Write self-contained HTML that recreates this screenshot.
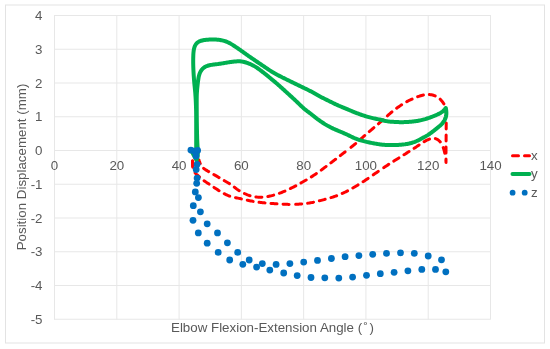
<!DOCTYPE html>
<html><head><meta charset="utf-8"><style>
html,body{margin:0;padding:0;background:#fff;}
svg{display:block;}
text{font-family:"Liberation Sans",Arial,sans-serif;font-size:13.33px;fill:#595959;}
</style></head><body>
<svg width="550" height="349" viewBox="0 0 550 349">
<rect x="0" y="0" width="550" height="349" fill="#fff"/>
<rect x="5.5" y="5" width="539" height="338" fill="none" stroke="#e3e3e3" stroke-width="1"/>
<line x1="54" x2="490.5" y1="15.50" y2="15.50" stroke="#e7e7e7" stroke-width="1"/><line x1="54" x2="490.5" y1="49.25" y2="49.25" stroke="#e7e7e7" stroke-width="1"/><line x1="54" x2="490.5" y1="83.00" y2="83.00" stroke="#e7e7e7" stroke-width="1"/><line x1="54" x2="490.5" y1="116.75" y2="116.75" stroke="#e7e7e7" stroke-width="1"/><line x1="54" x2="490.5" y1="150.50" y2="150.50" stroke="#e7e7e7" stroke-width="1"/><line x1="54" x2="490.5" y1="184.25" y2="184.25" stroke="#e7e7e7" stroke-width="1"/><line x1="54" x2="490.5" y1="218.00" y2="218.00" stroke="#e7e7e7" stroke-width="1"/><line x1="54" x2="490.5" y1="251.75" y2="251.75" stroke="#e7e7e7" stroke-width="1"/><line x1="54" x2="490.5" y1="285.50" y2="285.50" stroke="#e7e7e7" stroke-width="1"/><line x1="54" x2="490.5" y1="319.25" y2="319.25" stroke="#e7e7e7" stroke-width="1"/><line x1="54.50" x2="54.50" y1="15" y2="319.5" stroke="#e7e7e7" stroke-width="1"/><line x1="116.79" x2="116.79" y1="15" y2="319.5" stroke="#e7e7e7" stroke-width="1"/><line x1="179.07" x2="179.07" y1="15" y2="319.5" stroke="#e7e7e7" stroke-width="1"/><line x1="241.36" x2="241.36" y1="15" y2="319.5" stroke="#e7e7e7" stroke-width="1"/><line x1="303.64" x2="303.64" y1="15" y2="319.5" stroke="#e7e7e7" stroke-width="1"/><line x1="365.93" x2="365.93" y1="15" y2="319.5" stroke="#e7e7e7" stroke-width="1"/><line x1="428.21" x2="428.21" y1="15" y2="319.5" stroke="#e7e7e7" stroke-width="1"/><line x1="490.50" x2="490.50" y1="15" y2="319.5" stroke="#e7e7e7" stroke-width="1"/><text x="42.5" y="20.10" text-anchor="end">4</text><text x="42.5" y="53.85" text-anchor="end">3</text><text x="42.5" y="87.60" text-anchor="end">2</text><text x="42.5" y="121.35" text-anchor="end">1</text><text x="42.5" y="155.10" text-anchor="end">0</text><text x="42.5" y="188.85" text-anchor="end">-1</text><text x="42.5" y="222.60" text-anchor="end">-2</text><text x="42.5" y="256.35" text-anchor="end">-3</text><text x="42.5" y="290.10" text-anchor="end">-4</text><text x="42.5" y="323.85" text-anchor="end">-5</text><text x="54.50" y="170.1" text-anchor="middle">0</text><text x="116.79" y="170.1" text-anchor="middle">20</text><text x="179.07" y="170.1" text-anchor="middle">40</text><text x="241.36" y="170.1" text-anchor="middle">60</text><text x="303.64" y="170.1" text-anchor="middle">80</text><text x="365.93" y="170.1" text-anchor="middle">100</text><text x="428.21" y="170.1" text-anchor="middle">120</text><text x="490.50" y="170.1" text-anchor="middle">140</text><text x="171" y="332.4">Elbow Flexion-Extension Angle (<tspan x="363.6">˚</tspan><tspan x="369.6">)</tspan></text><text transform="translate(25.6 167) rotate(-90)" text-anchor="middle">Position Displacement (mm)</text>
<path d="M199.00,160.00 L199.32,160.95 L199.66,161.89 L200.00,162.83 L200.26,163.48 M203.65,168.35 L203.78,168.47 L204.56,169.06 L205.39,169.62 L206.23,170.15 L207.09,170.66 L207.95,171.17 L208.69,171.59 M213.89,174.58 L214.04,174.67 L214.91,175.17 L215.78,175.67 L216.64,176.17 L217.51,176.67 L218.38,177.18 L219.08,177.59 M224.27,180.60 L224.45,180.70 L225.32,181.20 L226.19,181.70 L227.06,182.20 L227.92,182.71 L228.78,183.23 L229.44,183.64 M234.30,187.16 L234.48,187.30 L235.27,187.92 L236.07,188.52 L236.87,189.11 L237.69,189.68 L238.53,190.24 L239.18,190.64 M244.46,193.48 L244.68,193.59 L245.59,194.01 L246.51,194.42 L247.43,194.80 L248.37,195.15 L249.31,195.48 L250.03,195.71 M255.89,196.96 L256.13,196.99 L257.13,197.08 L258.13,197.14 L259.13,197.18 L260.13,197.19 L261.13,197.18 L261.88,197.15 M267.84,196.52 L268.10,196.48 L269.08,196.29 L270.06,196.08 L271.04,195.85 L272.01,195.61 L272.98,195.35 L273.68,195.15 M279.39,193.30 L279.65,193.20 L280.59,192.85 L281.53,192.49 L282.46,192.11 L283.38,191.72 L284.30,191.33 L284.95,191.05 M290.39,188.53 L290.68,188.39 L291.58,187.95 L292.48,187.51 L293.38,187.06 L294.27,186.61 L295.16,186.15 L295.75,185.83 M301.00,182.93 L301.31,182.76 L302.18,182.26 L303.05,181.77 L303.92,181.27 L304.79,180.77 L305.66,180.27 L306.21,179.95 M311.35,176.86 L311.68,176.66 L312.52,176.12 L313.37,175.58 L314.21,175.03 L315.04,174.47 L315.87,173.91 L316.37,173.57 M321.25,170.08 L321.58,169.83 L322.39,169.24 L323.19,168.64 L324.00,168.04 L324.80,167.43 L325.60,166.83 L326.06,166.49 M330.85,162.87 L331.20,162.60 L332.00,162.00 L332.80,161.39 L333.59,160.78 L334.39,160.17 L335.18,159.56 L335.61,159.23 M340.35,155.55 L340.74,155.26 L341.53,154.64 L342.32,154.03 L343.11,153.42 L343.91,152.80 L344.70,152.19 L345.10,151.89 M350.98,147.35 L351.05,147.29 L351.84,146.67 L352.62,146.04 L353.40,145.41 L354.18,144.77 L354.95,144.13 L355.63,143.56 M360.28,139.50 L360.99,138.86 L361.74,138.19 L362.49,137.52 L363.23,136.85 L363.98,136.18 L364.73,135.52 L364.76,135.50 M369.29,131.57 L370.04,130.93 L370.81,130.28 L371.58,129.63 L372.34,128.99 L373.11,128.34 L373.88,127.70 M378.45,123.81 L378.46,123.80 L379.22,123.14 L379.97,122.48 L380.72,121.81 L381.47,121.15 L382.21,120.47 L382.93,119.83 M387.41,115.83 L387.44,115.79 L388.20,115.13 L388.95,114.47 L389.71,113.82 L390.47,113.16 L391.23,112.51 L391.95,111.91 M396.67,108.21 L396.74,108.16 L397.55,107.58 L398.37,107.00 L399.20,106.43 L400.03,105.87 L400.87,105.32 L401.62,104.82 M406.75,101.71 L406.85,101.65 L407.73,101.17 L408.61,100.70 L409.51,100.25 L410.41,99.81 L411.31,99.39 L412.11,99.02 M417.66,96.75 L417.79,96.70 L418.74,96.37 L419.69,96.06 L420.65,95.78 L421.62,95.51 L422.59,95.27 L423.42,95.09 M429.38,94.55 L429.51,94.56 L430.50,94.64 L431.48,94.78 L432.45,94.98 L433.41,95.23 L434.35,95.55 L435.19,95.90 M440.18,99.19 L440.19,99.20 L440.89,99.91 L441.54,100.66 L442.17,101.43 L442.77,102.23 L443.34,103.05 L443.88,103.89 L443.88,103.89 M446.06,109.97 L446.11,110.37 L446.20,111.37 L446.26,112.36 L446.29,113.36 L446.30,114.37 L446.31,115.37 L446.31,115.96 M446.23,123.05 L446.22,123.39 L446.21,124.39 L446.20,125.40 L446.19,126.40 L446.18,127.40 L446.18,128.40 L446.17,129.05 M446.13,135.05 L446.13,135.42 L446.12,136.43 L446.12,137.43 L446.11,138.43 L446.10,139.44 L446.10,140.44 L446.09,141.05 M446.04,147.05 L446.03,147.46 L446.03,148.46 L446.02,149.46 L446.01,150.47 L446.01,151.47 L446.00,152.47 L446.00,153.05 M446.00,159.05 L446.00,159.49 L446.00,160.49 L446.00,161.50 L446.00,162.50 L445.95,161.50 L445.90,160.50 L445.87,159.96 M444.85,153.32 L444.67,152.63 L444.42,151.66 L444.16,150.69 L443.90,149.73 L443.63,148.77 L443.33,147.82 L443.23,147.54 M440.28,141.94 L440.11,141.73 L439.44,141.02 L438.71,140.38 L437.92,139.81 L437.08,139.32 L436.20,138.92 L435.37,138.65 M429.49,139.05 L428.65,139.37 L427.74,139.77 L426.84,140.20 L425.95,140.66 L425.07,141.14 L424.20,141.64 L424.11,141.70 M419.08,144.97 L418.35,145.48 L417.52,146.06 L416.70,146.62 L415.87,147.18 L415.04,147.74 L414.20,148.29 L414.12,148.34 M409.06,151.56 L408.28,152.05 L407.43,152.58 L406.58,153.12 L405.74,153.65 L404.89,154.18 L404.04,154.71 L403.97,154.75 M398.87,157.91 L398.08,158.40 L397.23,158.94 L396.38,159.47 L395.53,160.00 L394.69,160.54 L393.84,161.08 L393.80,161.10 M388.75,164.36 L387.95,164.88 L387.11,165.43 L386.28,165.99 L385.44,166.54 L384.61,167.10 L383.78,167.66 L383.75,167.67 M378.24,171.41 L377.97,171.59 L377.15,172.16 L376.32,172.72 L375.50,173.29 L374.67,173.86 L373.85,174.43 L373.29,174.82 M368.08,178.42 L368.08,178.42 L367.25,178.98 L366.42,179.54 L365.59,180.09 L364.75,180.65 L363.91,181.19 L363.08,181.73 M358.01,184.93 L357.99,184.95 L357.13,185.47 L356.27,185.98 L355.41,186.50 L354.55,187.01 L353.69,187.51 L352.85,188.00 M347.60,190.91 L347.56,190.93 L346.67,191.39 L345.78,191.83 L344.88,192.27 L343.97,192.70 L343.06,193.11 L342.19,193.49 M336.62,195.71 L336.56,195.73 L335.62,196.07 L334.67,196.41 L333.73,196.73 L332.78,197.05 L331.82,197.36 L330.94,197.64 M325.17,199.30 L325.09,199.32 L324.13,199.58 L323.16,199.84 L322.19,200.09 L321.22,200.34 L320.25,200.59 L319.37,200.81 M313.52,202.18 L313.42,202.21 L312.44,202.41 L311.46,202.60 L310.48,202.78 L309.49,202.95 L308.50,203.11 L307.62,203.24 M301.66,203.93 L301.54,203.94 L300.54,204.03 L299.54,204.10 L298.55,204.17 L297.55,204.24 L296.55,204.29 L295.67,204.33 M289.07,204.40 L288.54,204.39 L287.53,204.36 L286.53,204.33 L285.53,204.30 L284.53,204.25 L283.53,204.21 L283.08,204.19 M276.99,203.83 L276.53,203.80 L275.53,203.73 L274.53,203.66 L273.53,203.59 L272.53,203.52 L271.53,203.44 L271.00,203.40 M265.03,202.90 L264.55,202.85 L263.55,202.76 L262.55,202.66 L261.56,202.56 L260.56,202.45 L259.57,202.33 L259.06,202.27 M253.13,201.37 L252.63,201.28 L251.65,201.10 L250.67,200.91 L249.68,200.71 L248.70,200.51 L247.72,200.30 L247.24,200.19 M241.39,198.87 L240.88,198.76 L239.90,198.55 L238.92,198.35 L237.94,198.15 L236.96,197.96 L235.98,197.77 L235.51,197.68 M229.71,196.16 L229.23,195.98 L228.30,195.61 L227.38,195.22 L226.47,194.80 L225.57,194.37 L224.67,193.92 L224.25,193.70 M219.06,190.69 L218.61,190.41 L217.77,189.87 L216.93,189.32 L216.09,188.78 L215.25,188.23 L214.41,187.68 L214.02,187.43 M209.03,184.10 L208.57,183.80 L207.74,183.24 L206.90,182.69 L206.07,182.13 L205.24,181.58 L204.41,181.01 L204.05,180.76 M199.42,176.95 L199.02,176.58 L198.28,175.90 L197.54,175.23 L196.80,174.57 L196.09,173.88 L195.42,173.18 L195.10,172.79 M192.88,167.30 L192.83,166.98 L192.72,165.99 L192.64,165.00 L192.60,164.00 L192.58,163.00 L192.59,162.00 L192.60,161.31" fill="none" stroke="#ff0000" stroke-width="3" stroke-linejoin="round" stroke-linecap="round"/>
<path d="M192.5,160.8 L192.7,166.5" stroke="#ff0000" stroke-width="3" stroke-linecap="round"/>
<path d="M191.50,151.00 L192.00,151.93 L192.50,152.86 L193.00,153.79 L193.50,154.72 L194.00,155.65 L194.50,156.58 L195.00,157.51 L195.50,158.44 L196.00,159.37 L196.50,160.30 L196.81,159.36 L197.10,158.41 L197.35,157.45 L197.55,156.49 L197.69,155.51 L197.77,154.52 L197.81,153.53 L197.82,152.53 L197.80,151.53 L197.76,150.53 L197.72,149.54 L197.66,148.54 L197.60,147.54 L197.54,146.54 L197.48,145.54 L197.43,144.54 L197.37,143.55 L197.32,142.55 L197.28,141.55 L197.23,140.55 L197.20,139.55 L197.16,138.55 L197.13,137.55 L197.11,136.55 L197.08,135.55 L197.06,134.55 L197.03,133.55 L197.01,132.55 L196.99,131.55 L196.97,130.55 L196.95,129.55 L196.93,128.55 L196.91,127.55 L196.90,126.55 L196.88,125.55 L196.87,124.55 L196.85,123.55 L196.84,122.55 L196.82,121.55 L196.81,120.55 L196.80,119.55 L196.79,118.55 L196.77,117.55 L196.77,116.55 L196.76,115.55 L196.75,114.55 L196.74,113.55 L196.73,112.55 L196.73,111.55 L196.72,110.55 L196.72,109.55 L196.71,108.55 L196.71,107.55 L196.70,106.55 L196.70,105.55 L196.70,104.55 L196.70,103.55 L196.70,102.55 L196.70,101.55 L196.70,100.55 L196.71,99.55 L196.72,98.55 L196.73,97.55 L196.74,96.55 L196.77,95.55 L196.80,94.55 L196.84,93.55 L196.90,92.55 L196.96,91.56 L197.04,90.56 L197.12,89.56 L197.21,88.57 L197.31,87.57 L197.42,86.58 L197.53,85.58 L197.64,84.59 L197.76,83.60 L197.87,82.60 L197.99,81.61 L198.12,80.62 L198.25,79.63 L198.40,78.64 L198.56,77.66 L198.76,76.68 L198.98,75.71 L199.25,74.75 L199.56,73.81 L199.92,72.89 L200.34,72.00 L200.82,71.14 L201.36,70.31 L201.96,69.53 L202.61,68.80 L203.32,68.13 L204.09,67.53 L204.90,66.99 L205.76,66.52 L206.66,66.12 L207.58,65.78 L208.53,65.49 L209.49,65.25 L210.47,65.05 L211.45,64.87 L212.44,64.72 L213.43,64.59 L214.42,64.47 L215.41,64.36 L216.41,64.24 L217.40,64.12 L218.39,63.99 L219.38,63.84 L220.37,63.69 L221.35,63.53 L222.34,63.37 L223.33,63.20 L224.31,63.04 L225.30,62.87 L226.29,62.71 L227.27,62.55 L228.26,62.39 L229.25,62.24 L230.24,62.10 L231.23,61.96 L232.22,61.82 L233.21,61.69 L234.20,61.58 L235.20,61.47 L236.19,61.38 L237.19,61.32 L238.18,61.30 L239.18,61.31 L240.17,61.36 L241.16,61.46 L242.14,61.60 L243.12,61.78 L244.10,61.99 L245.06,62.24 L246.02,62.52 L246.97,62.82 L247.91,63.15 L248.84,63.51 L249.77,63.89 L250.68,64.29 L251.58,64.72 L252.47,65.17 L253.36,65.63 L254.23,66.12 L255.09,66.62 L255.94,67.14 L256.78,67.68 L257.61,68.24 L258.43,68.81 L259.25,69.39 L260.05,69.99 L260.85,70.59 L261.64,71.20 L262.43,71.81 L263.22,72.42 L264.01,73.04 L264.79,73.66 L265.58,74.28 L266.36,74.91 L267.13,75.54 L267.91,76.17 L268.68,76.81 L269.45,77.44 L270.22,78.08 L270.99,78.72 L271.76,79.36 L272.53,79.99 L273.30,80.63 L274.07,81.27 L274.84,81.91 L275.61,82.56 L276.37,83.20 L277.13,83.85 L277.89,84.50 L278.64,85.16 L279.39,85.82 L280.14,86.48 L280.89,87.15 L281.63,87.82 L282.37,88.49 L283.11,89.16 L283.85,89.83 L284.59,90.51 L285.33,91.18 L286.07,91.86 L286.80,92.53 L287.54,93.21 L288.28,93.88 L289.02,94.56 L289.76,95.23 L290.50,95.91 L291.23,96.58 L291.97,97.26 L292.71,97.94 L293.44,98.62 L294.17,99.30 L294.90,99.98 L295.63,100.66 L296.36,101.35 L297.08,102.04 L297.80,102.74 L298.52,103.43 L299.24,104.13 L299.96,104.82 L300.68,105.52 L301.40,106.21 L302.13,106.89 L302.87,107.57 L303.61,108.23 L304.37,108.89 L305.13,109.53 L305.91,110.16 L306.70,110.77 L307.49,111.38 L308.30,111.97 L309.10,112.56 L309.91,113.16 L310.71,113.76 L311.50,114.36 L312.29,114.97 L313.08,115.59 L313.86,116.21 L314.64,116.84 L315.42,117.46 L316.21,118.08 L317.00,118.70 L317.80,119.30 L318.60,119.89 L319.41,120.48 L320.22,121.06 L321.05,121.63 L321.87,122.19 L322.71,122.74 L323.55,123.28 L324.39,123.82 L325.24,124.35 L326.10,124.86 L326.96,125.37 L327.83,125.87 L328.70,126.35 L329.58,126.82 L330.47,127.28 L331.36,127.73 L332.26,128.17 L333.16,128.60 L334.07,129.01 L334.99,129.42 L335.91,129.81 L336.83,130.20 L337.75,130.58 L338.67,130.97 L339.60,131.35 L340.52,131.73 L341.45,132.12 L342.37,132.51 L343.28,132.91 L344.20,133.31 L345.11,133.72 L346.02,134.13 L346.93,134.56 L347.83,134.98 L348.73,135.42 L349.63,135.85 L350.53,136.28 L351.44,136.71 L352.34,137.14 L353.25,137.56 L354.16,137.96 L355.08,138.36 L356.01,138.73 L356.94,139.09 L357.88,139.44 L358.82,139.76 L359.77,140.06 L360.73,140.35 L361.69,140.63 L362.66,140.89 L363.62,141.14 L364.59,141.39 L365.56,141.63 L366.54,141.86 L367.51,142.08 L368.49,142.30 L369.46,142.51 L370.44,142.71 L371.42,142.91 L372.41,143.10 L373.39,143.28 L374.37,143.46 L375.36,143.63 L376.34,143.80 L377.33,143.96 L378.32,144.12 L379.31,144.27 L380.30,144.41 L381.29,144.53 L382.28,144.65 L383.28,144.75 L384.27,144.84 L385.27,144.91 L386.27,144.97 L387.26,145.02 L388.26,145.05 L389.26,145.08 L390.26,145.09 L391.26,145.10 L392.26,145.10 L393.26,145.09 L394.26,145.08 L395.26,145.05 L396.26,145.02 L397.26,144.98 L398.26,144.93 L399.26,144.86 L400.25,144.78 L401.25,144.70 L402.24,144.60 L403.24,144.49 L404.23,144.37 L405.22,144.24 L406.21,144.08 L407.19,143.91 L408.17,143.72 L409.15,143.51 L410.12,143.27 L411.08,143.02 L412.04,142.74 L412.99,142.44 L413.94,142.12 L414.88,141.78 L415.81,141.41 L416.73,141.02 L417.64,140.61 L418.54,140.18 L419.43,139.74 L420.32,139.28 L421.21,138.81 L422.08,138.34 L422.96,137.86 L423.84,137.37 L424.71,136.88 L425.57,136.38 L426.43,135.87 L427.29,135.36 L428.14,134.83 L428.98,134.28 L429.81,133.73 L430.63,133.16 L431.44,132.57 L432.24,131.97 L433.03,131.36 L433.81,130.74 L434.59,130.12 L435.37,129.49 L436.15,128.86 L436.92,128.23 L437.70,127.60 L438.47,126.96 L439.24,126.32 L440.00,125.68 L440.74,125.01 L441.46,124.32 L442.14,123.60 L442.78,122.85 L443.38,122.06 L443.94,121.24 L444.44,120.39 L444.89,119.51 L445.29,118.61 L445.64,117.68 L445.91,116.74 L446.13,115.78 L446.27,114.80 L446.35,113.82 L446.37,112.83 L446.33,111.84 L446.25,110.85 L446.12,109.87 L445.97,108.88 L445.80,107.90 L445.20,108.69 L444.58,109.47 L443.93,110.21 L443.23,110.91 L442.49,111.55 L441.70,112.15 L440.87,112.69 L440.02,113.19 L439.14,113.66 L438.24,114.11 L437.34,114.54 L436.43,114.95 L435.51,115.35 L434.59,115.74 L433.66,116.12 L432.73,116.49 L431.79,116.85 L430.85,117.20 L429.91,117.54 L428.97,117.88 L428.02,118.20 L427.07,118.52 L426.12,118.82 L425.16,119.12 L424.20,119.39 L423.23,119.66 L422.26,119.91 L421.29,120.14 L420.31,120.36 L419.33,120.56 L418.34,120.74 L417.36,120.91 L416.37,121.07 L415.38,121.22 L414.38,121.35 L413.39,121.46 L412.39,121.57 L411.39,121.66 L410.40,121.75 L409.40,121.83 L408.40,121.90 L407.40,121.96 L406.40,122.02 L405.40,122.07 L404.40,122.11 L403.39,122.13 L402.39,122.15 L401.39,122.16 L400.39,122.15 L399.39,122.13 L398.39,122.10 L397.39,122.06 L396.39,122.01 L395.38,121.96 L394.38,121.91 L393.38,121.86 L392.38,121.80 L391.38,121.74 L390.38,121.67 L389.39,121.58 L388.40,121.46 L387.41,121.32 L386.42,121.15 L385.44,120.95 L384.46,120.74 L383.49,120.50 L382.52,120.26 L381.55,120.02 L380.57,119.79 L379.60,119.56 L378.62,119.35 L377.64,119.14 L376.66,118.94 L375.67,118.74 L374.69,118.54 L373.71,118.34 L372.73,118.12 L371.76,117.89 L370.79,117.66 L369.82,117.41 L368.85,117.15 L367.88,116.88 L366.92,116.60 L365.96,116.31 L365.00,116.02 L364.05,115.71 L363.10,115.40 L362.15,115.08 L361.20,114.75 L360.26,114.42 L359.31,114.08 L358.38,113.73 L357.44,113.37 L356.50,113.01 L355.57,112.65 L354.64,112.28 L353.71,111.91 L352.78,111.53 L351.85,111.15 L350.93,110.76 L350.00,110.38 L349.08,109.99 L348.16,109.60 L347.23,109.21 L346.31,108.82 L345.38,108.44 L344.46,108.05 L343.53,107.67 L342.61,107.29 L341.68,106.90 L340.76,106.52 L339.83,106.12 L338.91,105.73 L338.00,105.32 L337.08,104.91 L336.17,104.50 L335.26,104.07 L334.36,103.64 L333.46,103.20 L332.56,102.76 L331.66,102.32 L330.76,101.88 L329.86,101.43 L328.96,100.99 L328.07,100.54 L327.17,100.10 L326.27,99.66 L325.37,99.21 L324.47,98.77 L323.58,98.32 L322.68,97.87 L321.79,97.41 L320.90,96.95 L320.02,96.48 L319.14,96.00 L318.26,95.51 L317.39,95.02 L316.51,94.53 L315.64,94.03 L314.77,93.53 L313.90,93.04 L313.03,92.55 L312.15,92.06 L311.27,91.59 L310.39,91.12 L309.50,90.66 L308.60,90.21 L307.70,89.76 L306.80,89.32 L305.90,88.89 L305.00,88.45 L304.09,88.02 L303.19,87.58 L302.29,87.15 L301.39,86.71 L300.49,86.27 L299.58,85.83 L298.68,85.40 L297.78,84.96 L296.88,84.52 L295.98,84.08 L295.08,83.64 L294.18,83.20 L293.28,82.76 L292.38,82.33 L291.48,81.89 L290.57,81.45 L289.67,81.01 L288.77,80.57 L287.87,80.13 L286.97,79.69 L286.07,79.25 L285.17,78.80 L284.28,78.36 L283.38,77.91 L282.48,77.47 L281.59,77.01 L280.69,76.56 L279.80,76.10 L278.92,75.64 L278.03,75.17 L277.15,74.70 L276.27,74.22 L275.39,73.73 L274.52,73.24 L273.65,72.74 L272.78,72.23 L271.93,71.72 L271.07,71.19 L270.22,70.66 L269.38,70.12 L268.54,69.57 L267.71,69.01 L266.88,68.45 L266.05,67.89 L265.22,67.33 L264.39,66.77 L263.56,66.21 L262.73,65.64 L261.90,65.08 L261.07,64.52 L260.24,63.96 L259.41,63.40 L258.58,62.84 L257.75,62.28 L256.92,61.72 L256.09,61.15 L255.26,60.59 L254.43,60.03 L253.60,59.46 L252.77,58.90 L251.95,58.33 L251.12,57.76 L250.30,57.19 L249.47,56.62 L248.65,56.05 L247.84,55.47 L247.02,54.89 L246.20,54.31 L245.39,53.72 L244.58,53.14 L243.76,52.55 L242.95,51.97 L242.13,51.39 L241.31,50.81 L240.50,50.23 L239.68,49.65 L238.86,49.08 L238.03,48.50 L237.21,47.94 L236.38,47.37 L235.55,46.81 L234.71,46.26 L233.88,45.71 L233.03,45.16 L232.19,44.63 L231.33,44.11 L230.47,43.60 L229.59,43.12 L228.70,42.67 L227.80,42.24 L226.88,41.85 L225.95,41.49 L225.01,41.16 L224.06,40.86 L223.09,40.60 L222.12,40.37 L221.14,40.17 L220.16,40.00 L219.17,39.86 L218.18,39.75 L217.18,39.67 L216.18,39.61 L215.18,39.56 L214.18,39.54 L213.18,39.52 L212.18,39.52 L211.17,39.53 L210.17,39.55 L209.17,39.58 L208.17,39.64 L207.17,39.71 L206.18,39.80 L205.18,39.92 L204.20,40.06 L203.21,40.24 L202.24,40.45 L201.28,40.71 L200.34,41.02 L199.44,41.39 L198.57,41.83 L197.76,42.35 L197.02,42.96 L196.36,43.65 L195.78,44.42 L195.28,45.25 L194.86,46.13 L194.51,47.05 L194.22,48.00 L193.98,48.96 L193.80,49.94 L193.65,50.92 L193.54,51.92 L193.45,52.91 L193.38,53.91 L193.33,54.91 L193.29,55.91 L193.26,56.91 L193.23,57.92 L193.21,58.92 L193.20,59.92 L193.20,60.92 L193.20,61.92 L193.20,62.93 L193.22,63.93 L193.24,64.93 L193.26,65.93 L193.29,66.93 L193.33,67.93 L193.37,68.94 L193.41,69.94 L193.46,70.94 L193.51,71.94 L193.56,72.94 L193.62,73.94 L193.68,74.94 L193.75,75.94 L193.82,76.94 L193.89,77.94 L193.96,78.94 L194.04,79.94 L194.12,80.94 L194.21,81.93 L194.30,82.93 L194.39,83.93 L194.49,84.93 L194.59,85.92 L194.69,86.92 L194.79,87.92 L194.89,88.92 L194.99,89.91 L195.09,90.91 L195.18,91.91 L195.26,92.91 L195.34,93.91 L195.41,94.91 L195.48,95.90 L195.55,96.90 L195.61,97.91 L195.66,98.91 L195.72,99.91 L195.77,100.91 L195.82,101.91 L195.86,102.91 L195.90,103.91 L195.94,104.91 L195.98,105.91 L196.01,106.91 L196.04,107.92 L196.06,108.92 L196.09,109.92 L196.11,110.92 L196.13,111.92 L196.14,112.93 L196.15,113.93 L196.17,114.93 L196.17,115.93 L196.18,116.93 L196.18,117.94 L196.19,118.94 L196.19,119.94 L196.19,120.94 L196.19,121.94 L196.20,122.95 L196.20,123.95 L196.20,124.95 L196.20,125.95 L196.20,126.96 L196.20,127.96 L196.20,128.96 L196.20,129.96 L196.20,130.96 L196.20,131.97 L196.20,132.97 L196.21,133.97 L196.21,134.97 L196.21,135.97 L196.21,136.98 L196.21,137.98 L196.21,138.98 L196.21,139.98 L196.21,140.99 L196.20,141.99 L196.20,142.99 L196.20,143.99 L196.20,144.99 L196.20,146.00 L196.20,147.00 L196.20,148.00" fill="none" stroke="#00b050" stroke-width="4" stroke-linejoin="round" stroke-linecap="round"/>
<circle cx="190.9" cy="150.1" r="3.4" fill="#0070c0"/>
<circle cx="194.3" cy="151.2" r="3.4" fill="#0070c0"/>
<circle cx="197.6" cy="150.4" r="3.4" fill="#0070c0"/>
<circle cx="196.0" cy="156.1" r="3.4" fill="#0070c0"/>
<circle cx="197.1" cy="164.3" r="3.4" fill="#0070c0"/>
<circle cx="197.1" cy="178.1" r="3.4" fill="#0070c0"/>
<circle cx="195.3" cy="191.9" r="3.4" fill="#0070c0"/>
<circle cx="193.3" cy="205.7" r="3.4" fill="#0070c0"/>
<circle cx="193.0" cy="220.3" r="3.4" fill="#0070c0"/>
<circle cx="198.3" cy="232.9" r="3.4" fill="#0070c0"/>
<circle cx="207.2" cy="243.2" r="3.4" fill="#0070c0"/>
<circle cx="218.2" cy="252.4" r="3.4" fill="#0070c0"/>
<circle cx="229.7" cy="260.0" r="3.4" fill="#0070c0"/>
<circle cx="242.8" cy="264.3" r="3.4" fill="#0070c0"/>
<circle cx="256.6" cy="267.1" r="3.4" fill="#0070c0"/>
<circle cx="269.8" cy="270.1" r="3.4" fill="#0070c0"/>
<circle cx="283.7" cy="273.0" r="3.4" fill="#0070c0"/>
<circle cx="297.2" cy="275.6" r="3.4" fill="#0070c0"/>
<circle cx="311.0" cy="277.5" r="3.4" fill="#0070c0"/>
<circle cx="324.8" cy="277.8" r="3.4" fill="#0070c0"/>
<circle cx="338.8" cy="278.1" r="3.4" fill="#0070c0"/>
<circle cx="352.6" cy="277.1" r="3.4" fill="#0070c0"/>
<circle cx="366.5" cy="275.3" r="3.4" fill="#0070c0"/>
<circle cx="380.3" cy="273.7" r="3.4" fill="#0070c0"/>
<circle cx="394.1" cy="272.3" r="3.4" fill="#0070c0"/>
<circle cx="407.9" cy="270.8" r="3.4" fill="#0070c0"/>
<circle cx="421.8" cy="269.4" r="3.4" fill="#0070c0"/>
<circle cx="435.5" cy="269.4" r="3.4" fill="#0070c0"/>
<circle cx="445.8" cy="271.8" r="3.4" fill="#0070c0"/>
<circle cx="441.5" cy="259.8" r="3.4" fill="#0070c0"/>
<circle cx="428.2" cy="256.0" r="3.4" fill="#0070c0"/>
<circle cx="414.3" cy="253.3" r="3.4" fill="#0070c0"/>
<circle cx="400.5" cy="252.8" r="3.4" fill="#0070c0"/>
<circle cx="386.5" cy="253.4" r="3.4" fill="#0070c0"/>
<circle cx="372.7" cy="254.3" r="3.4" fill="#0070c0"/>
<circle cx="358.9" cy="255.6" r="3.4" fill="#0070c0"/>
<circle cx="345.1" cy="256.7" r="3.4" fill="#0070c0"/>
<circle cx="331.4" cy="258.5" r="3.4" fill="#0070c0"/>
<circle cx="317.5" cy="260.4" r="3.4" fill="#0070c0"/>
<circle cx="303.7" cy="262.1" r="3.4" fill="#0070c0"/>
<circle cx="289.9" cy="263.6" r="3.4" fill="#0070c0"/>
<circle cx="276.1" cy="264.4" r="3.4" fill="#0070c0"/>
<circle cx="262.3" cy="263.6" r="3.4" fill="#0070c0"/>
<circle cx="249.2" cy="260.0" r="3.4" fill="#0070c0"/>
<circle cx="237.7" cy="252.4" r="3.4" fill="#0070c0"/>
<circle cx="227.4" cy="242.8" r="3.4" fill="#0070c0"/>
<circle cx="217.5" cy="232.9" r="3.4" fill="#0070c0"/>
<circle cx="207.2" cy="223.8" r="3.4" fill="#0070c0"/>
<circle cx="200.4" cy="211.8" r="3.4" fill="#0070c0"/>
<circle cx="198.4" cy="197.6" r="3.4" fill="#0070c0"/>
<circle cx="196.7" cy="183.3" r="3.4" fill="#0070c0"/>
<circle cx="196.2" cy="169.5" r="3.4" fill="#0070c0"/>

<line x1="512.5" x2="529.5" y1="155.7" y2="155.7" stroke="#ff0000" stroke-width="3" stroke-dasharray="6 6"  stroke-linecap="round"/>
<text x="531" y="160">x</text>
<line x1="512.5" x2="529.5" y1="174.1" y2="174.1" stroke="#00b050" stroke-width="4" stroke-linecap="round"/>
<text x="531" y="178.4">y</text>
<circle cx="512.6" cy="192.7" r="2.9" fill="#0070c0"/>
<circle cx="524.7" cy="192.7" r="2.9" fill="#0070c0"/>
<text x="531" y="197">z</text>

</svg>
</body></html>
